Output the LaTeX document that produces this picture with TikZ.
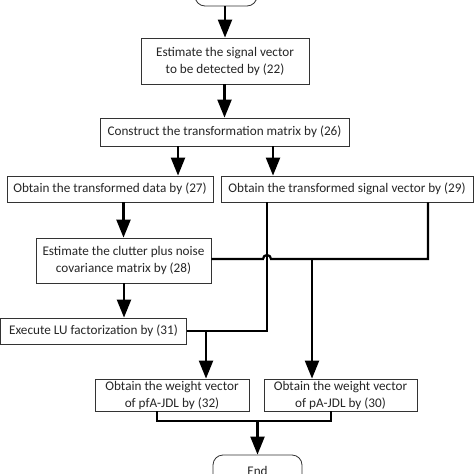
\documentclass[tikz,border=0pt]{standalone}
\usepackage{fontspec}
\setmainfont{Carlito}
\usetikzlibrary{arrows.meta}
\begin{document}
\begin{tikzpicture}[x=1pt,y=-1pt,
  box/.style={draw=black!80,line width=0.8pt,fill=white,align=center,inner sep=0pt,font=\fontsize{13.2}{17}\selectfont,text=black!85},
  term/.style={box,rounded corners=10pt},
  conn/.style={line width=2.2pt,black},
  arr/.style={conn,-{Triangle[length=18pt,width=14pt]}}]
\useasboundingbox (0,0) rectangle (474,474);
\begin{scope}
\clip (0,0) rectangle (474,474);
\node[term,minimum width=62pt,minimum height=24pt] (st) at (226,-6) {Start};
\node[box,minimum width=168pt,minimum height=46pt] (b1) at (225,61) {Estimate the signal vector\\to be detected by (22)};
\node[box,minimum width=249pt,minimum height=28pt] (b2) at (224.5,132) {Construct the transformation matrix by (26)};
\node[box,minimum width=206pt,minimum height=26pt] (b3) at (110,189) {Obtain the transformed data by (27)};
\node[box,minimum width=252pt,minimum height=26pt] (b4) at (347,189) {Obtain the transformed signal vector by (29)};
\node[box,minimum width=175pt,minimum height=45pt] (b5) at (123.5,260.5) {Estimate the clutter plus noise\\covariance matrix by (28)};
\node[box,minimum width=186pt,minimum height=26pt] (b6) at (93.5,331) {Execute LU factorization by (31)};
\node[box,minimum width=154pt,minimum height=32pt] (b7) at (172,395) {Obtain the weight vector\\of pfA-JDL by (32)};
\node[box,minimum width=153pt,minimum height=32pt] (b8) at (340.5,395) {Obtain the weight vector\\of pA-JDL by (30)};
\node[term,minimum width=89pt,minimum height=32pt] (en) at (257.5,471) {End};
\end{scope}
\coordinate (x1) at (178,0);
\coordinate (x2) at (273,0);
\coordinate (x3) at (267,0);
\coordinate (x4) at (428,0);
\coordinate (x5) at (206,0);
\coordinate (x6) at (312,0);
\coordinate (x7) at (157,0);
\coordinate (x8) at (331,0);
\coordinate (x0) at (124,0);
\coordinate (yj) at (0,259);
\coordinate (ym) at (0,421);
\draw[arr] (st.south -| b1.north) -- (b1.north);
\draw[arr] (b1.south -| b2.north) -- (b2.north);
\draw[arr] (b2.south -| x1) -- (b3.north -| x1);
\draw[arr] (b2.south -| x2) -- (b4.north -| x2);
\draw[arr] (b3.south -| b5.north) -- (b5.north);
\draw[arr] (b5.south -| x0) -- (b6.north -| x0);
\draw[conn] (b4.south -| x3) -- (b6.east -| x3) -- (b6.east);
\draw[conn] (b4.south -| x4) -- (yj -| x4) -- ([xshift=4pt]yj -| x3) arc[start angle=0,end angle=180,radius=4pt] -- (yj -| b5.east);
\draw[arr] (b6.east -| x5) -- (b7.north -| x5);
\draw[arr] (yj -| x6) -- (b8.north -| x6);
\draw[conn] (b7.south -| x7) -- (ym -| x7) -- (ym -| x8) -- (b8.south -| x8);
\draw[arr] (ym -| en.north) -- (en.north);
\end{tikzpicture}
\end{document}
